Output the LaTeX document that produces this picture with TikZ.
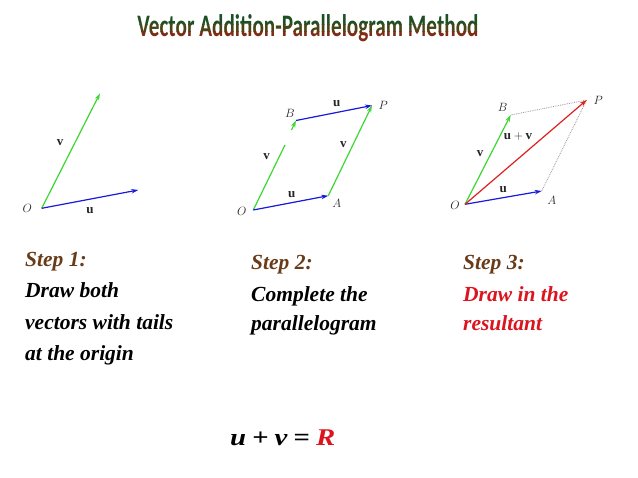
\documentclass[tikz,border=0pt]{standalone}
\usepackage{fontspec}
\setmainfont{Liberation Serif}
\newfontfamily\titlefont{Carlito}
\usetikzlibrary{arrows.meta}
\definecolor{vgreen}{RGB}{60,215,50}
\definecolor{ublue}{RGB}{25,25,220}
\definecolor{rred}{RGB}{225,30,30}
\definecolor{stepbrown}{RGB}{105,60,25}
\definecolor{resred}{RGB}{220,20,30}
\definecolor{titletop}{RGB}{30,80,35}
\definecolor{titlemid}{RGB}{70,70,25}
\definecolor{titlebot}{RGB}{125,45,20}
\newcommand\mytitle{\resizebox{341pt}{22pt}{\titlefont\bfseries Vector Addition-Parallelogram Method}}
\begin{document}
\begin{tikzpicture}[x=1pt,y=-1pt,
  vec/.style={line width=1.2pt,-{Stealth[length=7pt,width=4.5pt]}},
  lab/.style={font=\fontsize{13}{15}\selectfont,text=black!85,inner sep=0pt},
  steptext/.style={anchor=base west,inner sep=0pt,font=\fontsize{21.5}{25}\selectfont\bfseries\itshape},
  dots/.style={densely dotted,gray!80,line width=0.8pt}]
\useasboundingbox (0,0) rectangle (638,478);
\fill[white] (0,0) rectangle (638,478);
% title with banded colour
\begin{scope}\clip (0,0) rectangle (638,25);
\node[anchor=base,inner sep=0pt,text=titletop] (t1) at (308,37) {\mytitle};
\end{scope}
\begin{scope}\clip (0,25) rectangle (638,32);
\node[anchor=base,inner sep=0pt,text=titlemid] (t2) at (308,37) {\mytitle};
\end{scope}
\begin{scope}\clip (0,32) rectangle (638,60);
\node[anchor=base,inner sep=0pt,text=titlebot] (t3) at (308,37) {\mytitle};
\end{scope}
% diagram 1
\coordinate (O1) at (41.7,208.3);
\coordinate (U1) at (138.3,190);
\coordinate (V1) at (100,93.3);
\draw[vec,vgreen] (O1) -- (V1);
\draw[vec,ublue] (O1) -- (U1);
\node[lab] (o1l) at (27.3,208.3) {$O$};
\node[lab] (v1l) at (60,142.7) {$\mathbf{v}$};
\node[lab] (u1l) at (90,210.7) {$\mathbf{u}$};
% diagram 2
\coordinate (O2) at (253.3,210);
\coordinate (A2) at (328.3,195.7);
\coordinate (B2) at (296,120.5);
\coordinate (P2) at (372,105.5);
\coordinate (G2) at (285,145);
\coordinate (H2) at (291.5,130);
\draw[line width=1.2pt,vgreen] (O2) -- (G2);
\draw[vec,vgreen] (H2) -- (B2);
\draw[vec,ublue] (O2) -- (A2);
\draw[vec,vgreen] (A2) -- (P2);
\draw[vec,ublue] (B2) -- (P2);
\node[lab] (o2l) at (241.7,211) {$O$};
\node[lab] (a2l) at (336.7,203.3) {$A$};
\node[lab] (p2l) at (383.3,105.7) {$P$};
\node[lab] (b2l) at (290,113.3) {$B$};
\node[lab] (u2a) at (291.7,195) {$\mathbf{u}$};
\node[lab] (v2a) at (266.7,156.7) {$\mathbf{v}$};
\node[lab] (v2b) at (343.3,145) {$\mathbf{v}$};
\node[lab] (u2b) at (336.7,103.3) {$\mathbf{u}$};
% diagram 3
\coordinate (O3) at (465,204.3);
\coordinate (A3) at (541.7,191);
\coordinate (B3) at (510.7,115);
\coordinate (P3) at (586.7,100);
\draw[dots] (B3) -- (P3);
\draw[dots] (A3) -- (P3);
\draw[vec,vgreen] (O3) -- (B3);
\draw[vec,ublue] (O3) -- (A3);
\draw[vec,rred] (O3) -- (P3);
\node[lab] (o3l) at (455,205) {$O$};
\node[lab] (a3l) at (551.7,200) {$A$};
\node[lab] (b3l) at (502.7,107.7) {$B$};
\node[lab] (p3l) at (598.3,100) {$P$};
\node[lab] (u3l) at (503.3,190) {$\mathbf{u}$};
\node[lab] (v3l) at (480,153.3) {$\mathbf{v}$};
\node[lab] (uv3l) at (518,136.7) {$\mathbf{u}+\mathbf{v}$};
% step texts
\node[steptext,text=stepbrown] (s1) at (25,266.7) {Step 1:};
\node[steptext] (s1a) at (25,297.5) {Draw both};
\node[steptext] (s1b) at (25,329.5) {vectors with tails};
\node[steptext] (s1c) at (25,361) {at the origin};
\node[steptext,text=stepbrown] (s2) at (251,270) {Step 2:};
\node[steptext] (s2a) at (251,301.5) {Complete the};
\node[steptext] (s2b) at (251,330.5) {parallelogram};
\node[steptext,text=stepbrown] (s3) at (463,270) {Step 3:};
\node[steptext,text=resred] (s3a) at (463,301.5) {Draw in the};
\node[steptext,text=resred] (s3b) at (463,330.5) {resultant};
% equation
\node[anchor=base west,inner sep=0pt,xscale=1.2,font=\fontsize{24}{28}\selectfont\bfseries] (eq) at (230,446)
  {\textit{u}\hspace{5pt}+\hspace{5pt}\textit{v}\hspace{5pt}=\hspace{5pt}\textcolor{resred}{\textit{R}}};
\end{tikzpicture}
\end{document}
